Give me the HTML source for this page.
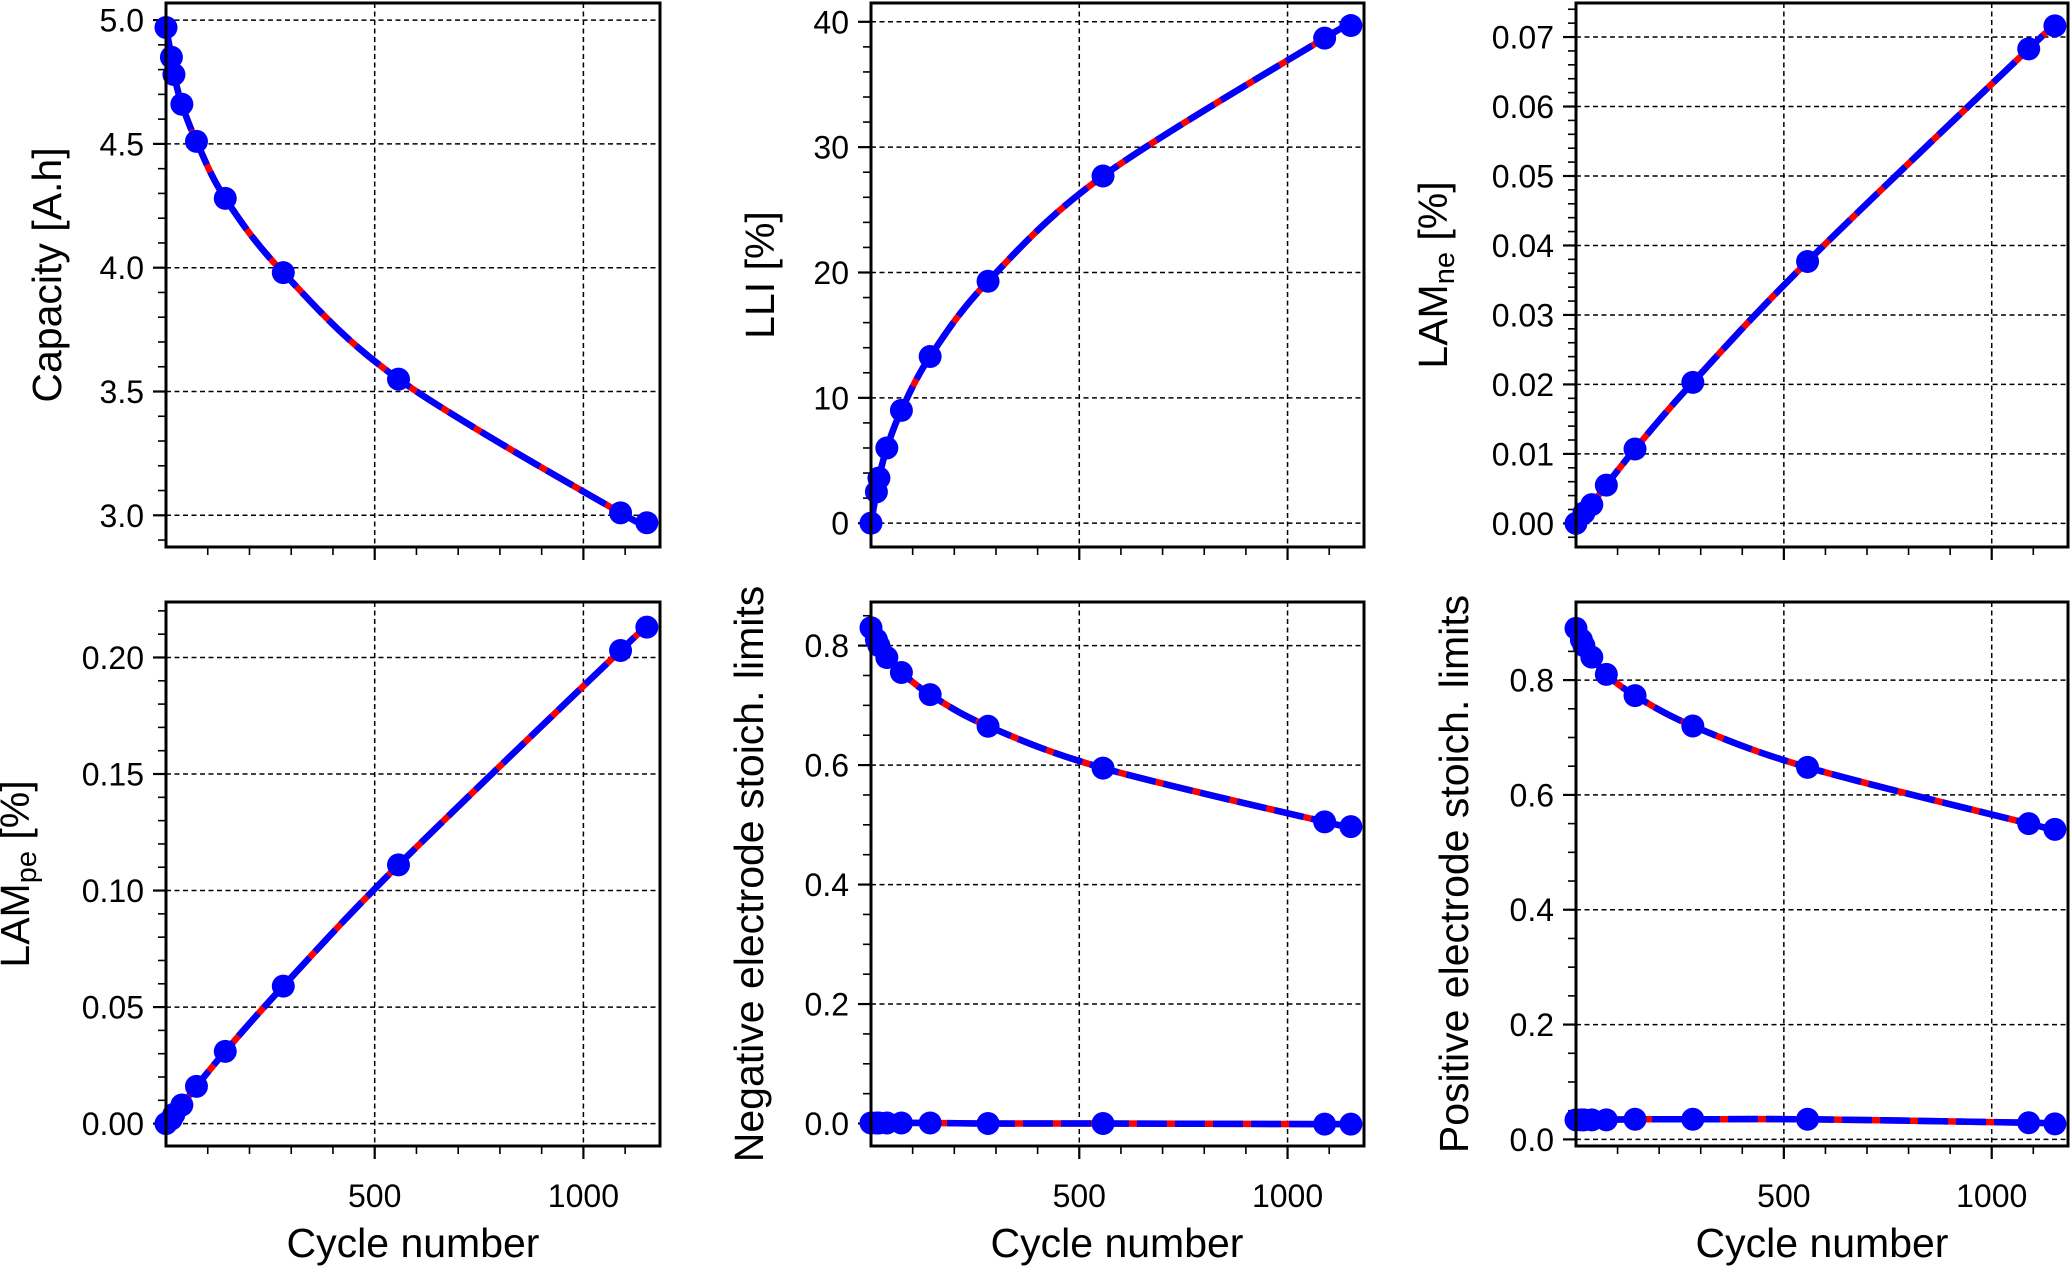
<!DOCTYPE html>
<html><head><meta charset="utf-8"><style>
html,body{margin:0;padding:0;background:#fff}
svg text{font-family:"Liberation Sans",Arial,sans-serif;fill:#000}
</style></head><body>
<svg id="s" xmlns="http://www.w3.org/2000/svg" width="2070" height="1267" viewBox="0 0 2070 1267">
<rect width="2070" height="1267" fill="#fff"/>
<g id="g"></g>
<text x="50" y="275" font-size="41" text-anchor="middle" transform="rotate(-90 50 275)" dominant-baseline="middle">Capacity [A.h]</text>
<text x="763" y="275" font-size="41" text-anchor="middle" transform="rotate(-90 763 275)" dominant-baseline="middle">LLI [%]</text>
<text x="1436" y="275" font-size="41" text-anchor="middle" transform="rotate(-90 1436 275)" dominant-baseline="middle">LAM<tspan font-size="29" dy="10">ne</tspan><tspan dy="-10"> [%]</tspan></text>
<text x="18" y="874" font-size="41" text-anchor="middle" transform="rotate(-90 18 874)" dominant-baseline="middle">LAM<tspan font-size="29" dy="10">pe</tspan><tspan dy="-10"> [%]</tspan></text>
<text x="752" y="874" font-size="41" text-anchor="middle" transform="rotate(-90 752 874)" dominant-baseline="middle">Negative electrode stoich. limits</text>
<text x="1457" y="874" font-size="41" text-anchor="middle" transform="rotate(-90 1457 874)" dominant-baseline="middle">Positive electrode stoich. limits</text>
<text x="413" y="1257" font-size="41" text-anchor="middle">Cycle number</text>
<text x="1117" y="1257" font-size="41" text-anchor="middle">Cycle number</text>
<text x="1822" y="1257" font-size="41" text-anchor="middle">Cycle number</text>
</svg>
<script>
var XS=[0,13,19,38,73,142,281,557,1089,1152];
var P=[
{x0:166,x1:660,y0:3,y1:547,ymin:2.872,ymax:5.069,maj:[[3,"3.0"],[3.5,"3.5"],[4,"4.0"],[4.5,"4.5"],[5,"5.0"]],mn:0.1,
 s:[[4.97,4.85,4.78,4.66,4.51,4.28,3.98,3.55,3.01,2.97]]},
{x0:871,x1:1364,y0:3,y1:547,ymin:-1.9,ymax:41.5,maj:[[0,"0"],[10,"10"],[20,"20"],[30,"30"],[40,"40"]],mn:2,
 s:[[0,2.5,3.6,6,9,13.3,19.3,27.7,38.7,39.7]]},
{x0:1576,x1:2068,y0:3,y1:547,ymin:-0.0034,ymax:0.0749,maj:[[0,"0.00"],[0.01,"0.01"],[0.02,"0.02"],[0.03,"0.03"],[0.04,"0.04"],[0.05,"0.05"],[0.06,"0.06"],[0.07,"0.07"]],mn:0.002,
 s:[[0,0.0015,0.0027,0.0055,0.0107,0.0203,0.0377,0.0683,0.0716]],xs:[0,13,19,38,73,142,281,557,1089,1152].filter(function(v,i){return i!=1;})},
{x0:166,x1:660,y0:602,y1:1146,ymin:-0.0096,ymax:0.2238,maj:[[0,"0.00"],[0.05,"0.05"],[0.1,"0.10"],[0.15,"0.15"],[0.2,"0.20"]],mn:0.01,
 s:[[0,0.002,0.004,0.008,0.016,0.031,0.059,0.111,0.203,0.213]]},
{x0:871,x1:1364,y0:602,y1:1146,ymin:-0.0376,ymax:0.873,maj:[[0,"0.0"],[0.2,"0.2"],[0.4,"0.4"],[0.6,"0.6"],[0.8,"0.8"]],mn:0.05,
 s:[[0.83,0.81,0.80,0.78,0.755,0.718,0.665,0.595,0.505,0.497],[0.001,0.001,0.001,0.001,0.001,0.001,0.0,0.0,-0.001,-0.001]]},
{x0:1576,x1:2068,y0:602,y1:1146,ymin:-0.0115,ymax:0.936,maj:[[0,"0.0"],[0.2,"0.2"],[0.4,"0.4"],[0.6,"0.6"],[0.8,"0.8"]],mn:0.05,
 s:[[0.89,0.87,0.86,0.84,0.81,0.773,0.72,0.648,0.55,0.54],[0.034,0.034,0.034,0.034,0.034,0.035,0.035,0.035,0.029,0.027]]}
];
var XMAX=1183.5,h="";
function L(a,b,c,d,st){h+='<line x1="'+a+'" y1="'+b+'" x2="'+c+'" y2="'+d+'" '+st+'/>';}
P.forEach(function(p,pi){
 var fx=function(v){return p.x0+(p.x1-p.x0)*v/XMAX;};
 var fy=function(v){return p.y1-(p.y1-p.y0)*(v-p.ymin)/(p.ymax-p.ymin);};
 var gs='stroke="#000" stroke-width="1.5" stroke-dasharray="5,3.5"';
 [500,1000].forEach(function(v){L(fx(v),p.y0,fx(v),p.y1,gs);});
 p.maj.forEach(function(m){L(p.x0,fy(m[0]),p.x1,fy(m[0]),gs);
  L(p.x0-13,fy(m[0]),p.x0,fy(m[0]),'stroke="#000" stroke-width="2.2"');
  h+='<text x="'+(p.x0-22)+'" y="'+(fy(m[0])+11.5)+'" font-size="32" text-anchor="end">'+m[1]+'</text>';});
 for(var k=Math.ceil(p.ymin/p.mn);k*p.mn<=p.ymax;k++){var y=fy(k*p.mn);L(p.x0-8,y,p.x0,y,'stroke="#000" stroke-width="1.6"');}
 for(var c=100;c<XMAX;c+=100){var big=(c%500==0);L(fx(c),p.y1,fx(c),p.y1+(big?13:8),'stroke="#000" stroke-width="'+(big?2.2:1.6)+'"');}
 if(pi>=3){h+='<text x="'+fx(500)+'" y="'+1207+'" font-size="32" text-anchor="middle">500</text>';
  h+='<text x="'+fx(1000)+'" y="'+1207+'" font-size="32" text-anchor="middle">1000</text>';}
 var xs=p.xs||XS;
 h+='<clipPath id="c'+pi+'"><rect x="'+(p.x0-14)+'" y="'+(p.y0-14)+'" width="'+(p.x1-p.x0+28)+'" height="'+(p.y1-p.y0+28)+'"/></clipPath><g clip-path="url(#c'+pi+')">';
 p.s.forEach(function(ys){
  var pts=ys.map(function(v,i){return [fx(xs[i]),fy(v)];});
  var d="M"+pts[0][0]+","+pts[0][1];
  for(var i=0;i<pts.length-1;i++){var a=pts[Math.max(0,i-1)],b=pts[i],c2=pts[i+1],e=pts[Math.min(pts.length-1,i+2)];
   d+=" C"+(b[0]+(c2[0]-a[0])/6)+","+(b[1]+(c2[1]-a[1])/6)+" "+(c2[0]-(e[0]-b[0])/6)+","+(c2[1]-(e[1]-b[1])/6)+" "+c2[0]+","+c2[1];}
  h+='<path d="'+d+'" fill="none" stroke="#f00" stroke-width="6.5"/>';
  h+='<path d="'+d+'" fill="none" stroke="#00f" stroke-width="6.5" stroke-dasharray="30,8"/>';
  pts.forEach(function(q){h+='<circle cx="'+q[0]+'" cy="'+q[1]+'" r="11.5" fill="#00f"/>';});
 });
 h+='</g><rect x="'+p.x0+'" y="'+p.y0+'" width="'+(p.x1-p.x0)+'" height="'+(p.y1-p.y0)+'" fill="none" stroke="#000" stroke-width="3"/>';
});
document.getElementById("g").innerHTML=h;
</script>
</body></html>
